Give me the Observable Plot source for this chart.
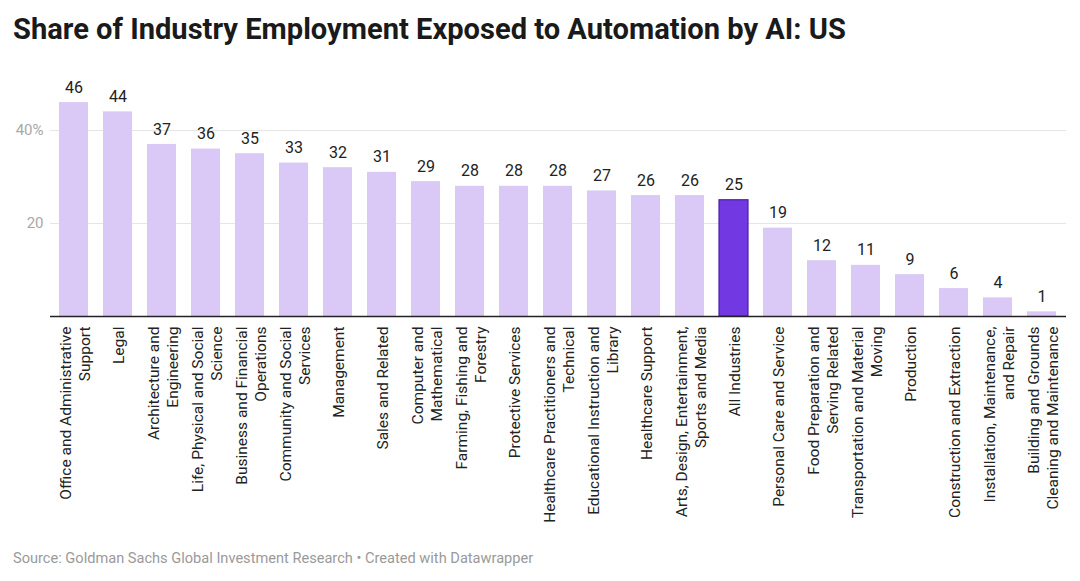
<!DOCTYPE html>
<html>
<head>
<meta charset="utf-8">
<script src="https://cdn.jsdelivr.net/npm/d3@7"></script>
<script src="https://cdn.jsdelivr.net/npm/@observablehq/plot@0.6"></script>
<style>
  html, body { margin: 0; padding: 0; background: #fff; }
  body { width: 1080px; height: 581px; overflow: hidden; font-family: Roboto, sans-serif; position: relative; }
  #title { position: absolute; left: 13px; top: 11px; font-size: 29.1px; font-weight: 700; color: #1a1a1a; line-height: 36px; }
  #chart { position: absolute; left: 0; top: 60px; }
  #source { position: absolute; left: 13px; top: 549px; font-size: 14.6px; color: #9a9a9a; }
</style>
</head>
<body>
<div id="title">Share of Industry Employment Exposed to Automation by AI: US</div>
<div id="chart"></div>
<div id="source">Source: Goldman Sachs Global Investment Research • Created with Datawrapper</div>
<script>
const industries = [
  "Office and Administrative\nSupport",
  "Legal",
  "Architecture and\nEngineering",
  "Life, Physical and Social\nScience",
  "Business and Financial\nOperations",
  "Community and Social\nServices",
  "Management",
  "Sales and Related",
  "Computer and\nMathematical",
  "Farming, Fishing and\nForestry",
  "Protective Services",
  "Healthcare Practitioners and\nTechnical",
  "Educational Instruction and\nLibrary",
  "Healthcare Support",
  "Arts, Design, Entertainment,\nSports and Media",
  "All Industries",
  "Personal Care and Service",
  "Food Preparation and\nServing Related",
  "Transportation and Material\nMoving",
  "Production",
  "Construction and Extraction",
  "Installation, Maintenance,\nand Repair",
  "Building and Grounds\nCleaning and Maintenance"
];
const shares = [46, 44, 37, 36, 35, 33, 32, 31, 29, 28, 28, 28, 27, 26, 26, 25, 19, 12, 11, 9, 6, 4, 1];
const highlight = "All Industries";
const yTicks = [20, 40];
const yTickLabels = ["20", "40%"];

const data = industries.map((name, i) => ({name, value: shares[i]}));

const chart = Plot.plot({
  width: 1080,
  height: 485,
  marginTop: 23.5,
  marginBottom: 229,
  marginLeft: 50,
  marginRight: 14,
  style: {fontFamily: "Roboto, sans-serif", background: "#fff"},
  x: {domain: industries, paddingInner: 0.34, paddingOuter: 0.17, axis: null},
  y: {domain: [0, 50], axis: null},
  marks: [
    Plot.ruleY(yTicks, {stroke: "#e6e6e6", strokeWidth: 1}),
    Plot.text(yTicks, {
      y: d => d, text: (d, i) => yTickLabels[i], frameAnchor: "left", textAnchor: "end",
      dx: -7, fill: "#a8a8a8", fontSize: 15
    }),
    Plot.barY(data, {
      x: "name", y: "value",
      fill: d => d.name === highlight ? "#7238e2" : "#dac8f6",
      stroke: d => d.name === highlight ? "#4b1eab" : "none",
      strokeWidth: 1.2
    }),
    Plot.text(data, {
      x: "name", y: "value", text: d => String(d.value), dy: -15,
      fill: "#222", fontSize: 16
    }),
    Plot.ruleY([0], {stroke: "#222", strokeWidth: 1.5}),
    Plot.text(data, {
      x: "name", text: "name", frameAnchor: "bottom", rotate: -90,
      textAnchor: "end", lineAnchor: "middle", lineHeight: 1.25,
      dy: 10, fill: "#222", fontSize: 15.5
    })
  ]
});
document.getElementById("chart").appendChild(chart);
</script>
</body>
</html>
